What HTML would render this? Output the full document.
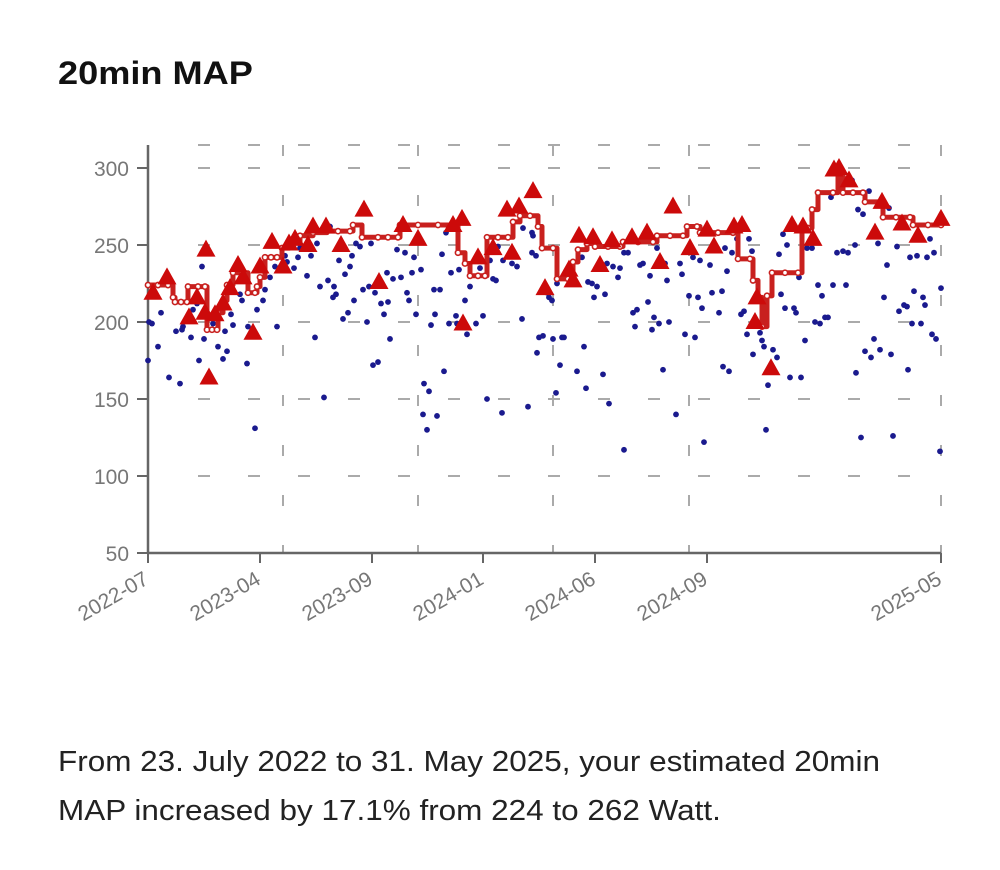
<!DOCTYPE html>
<html><head><meta charset="utf-8">
<style>
html,body{margin:0;padding:0;background:#fff;width:1000px;height:870px;overflow:hidden}
body{font-family:"Liberation Sans",sans-serif;position:relative}
#title{position:absolute;left:58px;top:55px;font-size:32px;font-weight:bold;color:#111;margin:0;transform:scaleX(1.13);transform-origin:0 0;white-space:nowrap}
#summary{position:absolute;left:58px;top:738px;font-size:29px;line-height:49px;color:#222;width:900px;margin:0;transform:scaleX(1.085);transform-origin:0 0;white-space:nowrap}
svg{position:absolute;left:0;top:0}
</style></head>
<body>
<h1 id="title">20min MAP</h1>
<svg id="chart" width="1000" height="870"></svg>
<p id="summary">From 23. July 2022 to 31. May 2025, your estimated 20min<br>MAP increased by 17.1% from 224 to 262 Watt.</p>
<script>
const yTicks=[50,100,150,200,250,300];
const xTickPos=[0,112,224,335,447,559,793];
const xTickLabels=["2022-07","2023-04","2023-09","2024-01","2024-06","2024-09","2025-05"];
const xGrid=[135,270,405,541,793];
const dotX=[0,1,4,10,13,21,28,34,35,32,43,45,49,51,54,56,65,70,75,79,77,83,85,92,94,99,100,107,109,115,117,122,129,127,137,139,146,150,152,159,163,167,169,172,176,180,182,186,188,185,191,195,197,200,202,204,206,208,212,215,219,221,223,225,230,227,233,240,236,239,242,245,249,253,257,259,261,264,266,268,273,276,281,275,279,289,283,286,292,287,294,296,298,301,303,308,309,311,317,319,322,328,332,335,339,342,345,348,350,354,355,361,364,369,374,375,380,384,385,389,391,384,388,395,399,401,404,405,408,409,412,414,416,429,434,436,438,440,444,449,446,455,457,459,461,465,472,470,476,480,476,485,489,487,492,495,500,502,504,506,511,509,515,517,519,521,528,532,534,537,541,545,547,550,552,554,556,562,564,569,571,574,575,581,577,579,584,589,593,596,599,601,604,605,612,614,616,618,620,625,629,631,633,635,637,639,642,646,648,651,653,657,659,664,667,672,677,680,670,674,683,685,689,695,700,698,704,707,708,710,715,713,717,723,726,732,721,730,736,739,741,743,745,749,751,756,759,760,762,769,764,773,766,775,777,779,786,782,784,788,793,792];
const dotY=[175,200,199,184,206,164,194,195,197,160,190,208,212,175,236,189,199,184,176,181,194,205,198,218,214,173,197,131,208,214,221,229,197,236,243,239,235,242,248,230,243,190,251,223,151,227,262,223,218,216,240,202,231,206,236,243,214,251,249,221,200,223,251,172,174,219,212,213,205,232,189,228,247,229,245,219,214,232,242,205,234,160,155,140,130,139,198,221,221,205,244,168,258,199,232,204,199,234,214,192,223,199,235,204,150,240,228,227,249,141,240,272,238,236,202,261,145,258,256,180,190,245,243,191,219,216,214,189,154,225,172,190,190,168,242,184,157,226,225,223,216,166,218,238,147,236,235,229,245,245,117,206,208,197,237,238,213,230,195,203,199,248,169,238,227,200,140,238,231,192,217,242,190,216,240,209,122,237,219,248,206,220,171,168,248,233,245,254,205,207,192,254,246,179,193,188,184,130,159,182,177,244,218,257,209,250,164,209,206,229,164,188,248,248,200,199,203,203,224,217,281,224,245,246,245,224,292,250,167,273,270,125,181,177,189,182,285,251,216,237,274,179,126,249,207,211,210,169,242,243,199,199,220,216,211,242,245,254,192,189,222,116];
const triX=[5,19,58,61,41,49,57,67,75,82,90,95,105,112,124,135,141,147,160,165,178,193,216,231,255,270,305,314,315,330,345,359,364,371,385,397,421,425,431,445,452,464,484,499,512,525,542,559,566,586,594,609,607,623,644,655,665,686,691,701,734,727,754,770,793];
const triY=[219,229,247,164,203,216,206,205,212,222,237,229,193,236,252,236,251,254,250,262,262,250,273,226,263,254,263,267,199,242,248,273,245,275,285,222,234,227,256,255,237,253,255,258,239,275,248,260,249,262,263,216,200,170,263,262,254,299,300,292,278,258,264,256,267];
const stepX=[0,10,20,25,27,33,39,40,50,57,59,64,69,70,75,79,85,94,100,107,109,112,117,123,129,134,142,152,165,179,190,202,205,214,230,240,250,252,270,290,309,310,317,322,330,337,339,350,360,365,372,382,390,394,405,409,420,425,430,439,447,460,472,475,490,505,509,522,535,539,549,552,570,585,590,602,605,610,614,619,624,637,650,654,660,664,670,685,690,695,705,715,717,732,735,748,762,765,780,793];
const stepY=[224,224,224,216,213,213,213,223,223,223,195,195,195,206,214,224,232,232,219,219,223,229,242,242,242,248,252,256,258,259,259,259,263,255,255,255,255,263,263,263,263,245,238,230,230,230,255,255,255,265,269,269,262,248,248,228,228,239,247,251,249,249,249,252,252,252,256,256,256,262,262,258,258,258,241,241,227,216,197,217,232,232,232,260,261,273,284,284,297,284,284,284,278,278,268,268,268,263,263,263];

const NS="http://www.w3.org/2000/svg";
const svgEl=document.getElementById('chart');
const X0=148,X1=941,Y0=553,Y1=168;
function sx(v){return X0+(v-0)/(793-0)*(X1-X0);}
function sy(v){return Y0-(v-50)/(300-50)*(Y0-Y1);}
function mk(tag,attrs,parent){const e=document.createElementNS(NS,tag);for(const k in attrs)e.setAttribute(k,attrs[k]);(parent||svgEl).appendChild(e);return e;}

const grid=mk('g',{});


yTicks.forEach(t=>{if(t===50)return;const l=mk('line',{x1:X0+50,x2:X1,y1:sy(t),y2:sy(t),stroke:'#aaa','stroke-width':2,'stroke-dasharray':'12 38'},grid);

});
const topLine=mk('line',{x1:X0+50,x2:X1,y1:145,y2:145,stroke:'#aaa','stroke-width':2,'stroke-dasharray':'12 38'},grid);


xGrid.forEach(g=>{const l=mk('line',{x1:sx(g),x2:sx(g),y1:145,y2:Y0,stroke:'#aaa','stroke-width':2,'stroke-dasharray':'11 39'},grid);

});

const ax=mk('g',{});


mk('line',{x1:X0,x2:X0,y1:145,y2:Y0+1,stroke:'#666','stroke-width':2.5},ax);
mk('line',{x1:X0,x2:X1,y1:Y0,y2:Y0,stroke:'#666','stroke-width':2.5},ax);
yTicks.forEach(t=>{mk('line',{x1:X0-11,x2:X0,y1:sy(t),y2:sy(t),stroke:'#666','stroke-width':2},ax);
const tx=mk('text',{x:X0-19,y:sy(t)+8,'text-anchor':'end','font-size':21,fill:'#777','font-family':'Liberation Sans, sans-serif'},ax);
tx.textContent=t;

});
xTickPos.forEach((p,i)=>{const x=sx(p);mk('line',{x1:x,x2:x,y1:Y0,y2:Y0+10,stroke:'#666','stroke-width':2},ax);
const tx=mk('text',{x:x+2,y:Y0+30,'text-anchor':'end','font-size':21,fill:'#777','font-family':'Liberation Sans, sans-serif',transform:`rotate(-30 ${x+2} ${Y0+30})`},ax);
tx.textContent=xTickLabels[i];

});

const dg=mk('g',{});


dotX.forEach((x,i)=>{const c=mk('circle',{cx:sx(x),cy:sy(dotY[i]),r:2.9,fill:'#1a1a8e'},dg);

});

let d='';
stepX.forEach((x,i)=>{const px=sx(x),py=sy(stepY[i]);if(i===0)d+=`M${px},${py}`;else d+=`H${px}V${py}`;});
const sl=mk('path',{d:d,fill:'none',stroke:'#c8201e','stroke-width':5,'stroke-linejoin':'round'});


const mg=mk('g',{});


stepX.forEach((x,i)=>{const c=mk('circle',{cx:sx(x),cy:sy(stepY[i]),r:2.6,fill:'#fff',stroke:'#c8201e','stroke-width':1.6},mg);

});

const tg=mk('g',{});


triX.forEach((x,i)=>{const px=sx(x),py=sy(triY[i]);
const p=mk('polygon',{points:`${px},${py-10} ${px-9.5},${py+7} ${px+9.5},${py+7}`,fill:'#cc0a0a'},tg);

});
</script>
</body></html>
